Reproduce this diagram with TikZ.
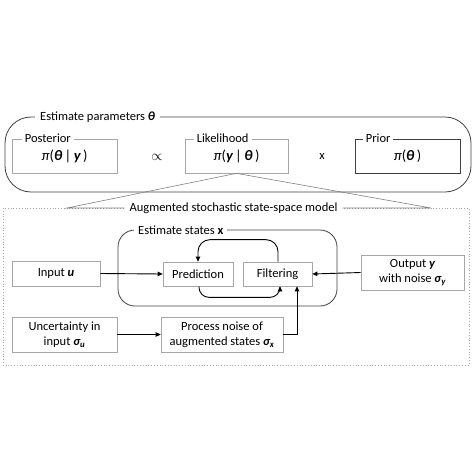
\documentclass[tikz,border=0pt]{standalone}
\usepackage{fontspec}
\setmainfont{Carlito}
\usetikzlibrary{arrows.meta}
\definecolor{boxgray}{HTML}{A6A6A6}
\definecolor{darkline}{HTML}{404040}
\definecolor{fangray}{HTML}{808080}
\newcommand{\bi}[1]{{\bfseries\itshape #1}}
\tikzset{
  every node/.style={font=\fontsize{12.5}{15}\selectfont, inner sep=0pt},
  box/.style={draw=boxgray, line width=0.7pt, fill=white, align=center},
  lab/.style={fill=white, inner sep=3pt, anchor=west},
  ttl/.style={fill=white, inner sep=5pt},
  arr/.style={draw=black, line width=0.9pt, -{Triangle[length=5pt,width=4.5pt]}},
  frame/.style={draw=darkline, line width=0.8pt},
  bigmath/.style={font=\fontsize{14.5}{17}\selectfont}
}
\begin{document}
\begin{tikzpicture}[x=1pt,y=-1pt]
\useasboundingbox (0,0) rectangle (474,474);
% outer parameter frame
\draw[frame, rounded corners=26pt] (5,117) rectangle (471,192);
\node[ttl, anchor=west] (partitle) at (35,117) {Estimate parameters \bi{θ}};
% three boxes
\node[box, minimum width=105pt, minimum height=34pt, bigmath] (post) at (64.5,156) {{\itshape π}(\bi{θ}\,|\,\bi{y}\,)};
\node[box, minimum width=103pt, minimum height=34pt, bigmath] (lik) at (236.5,156) {{\itshape π}(\bi{y}\,|\,\bi{θ}\,)};
\node[box, draw=darkline, minimum width=105pt, minimum height=34pt, bigmath] (prior) at (407.5,156) {{\itshape π}(\bi{θ}\,)};
\node[lab] (postlab) at ([xshift=10pt]post.north west) {Posterior};
\node[lab] (liklab) at ([xshift=9pt]lik.north west) {Likelihood};
\node[lab] (priorlab) at ([xshift=8pt]prior.north west) {Prior};
\node[bigmath] (prop) at (157,157) {$\propto$};
\node (times) at (322,157) {x};
% dotted model frame
\draw[boxgray, dotted, line width=0.8pt] (3,208) rectangle (469,365);
\coordinate (fl) at (67,208);
\coordinate (fr) at (431,208);
\node[ttl] (augtitle) at (233.5,208) {Augmented stochastic state-space model};
\draw[fangray, line width=0.6pt] (lik.south) -- (fl) -- (augtitle.west);
\draw[fangray, line width=0.6pt] (lik.south) -- (fr) -- (augtitle.east);
% states frame
\draw[frame, rounded corners=17pt] (118,230) rectangle (337,306);
\node[ttl, anchor=west, inner sep=4pt] (sttitle) at (134,230) {Estimate states {\bfseries x}};
% boxes
\node[box, minimum width=70pt, minimum height=24pt] (pred) at (198,274) {Prediction};
\node[box, minimum width=69pt, minimum height=24pt] (filt) at (277.5,274) {Filtering};
\node[box, minimum width=88pt, minimum height=25pt] (inp) at (56,273.5) {Input \bi{u}};
\node[box, minimum width=103pt, minimum height=35pt] (outp) at (412.5,272.5) {Output \bi{y}\\ with noise \bi{σ\textsubscript{y}}};
\node[box, minimum width=105pt, minimum height=35pt] (unc) at (64.5,334.5) {Uncertainty in\\ input \bi{σ\textsubscript{u}}};
\node[box, minimum width=122pt, minimum height=35pt] (proc) at (222,334.5) {Process noise of\\ augmented states \bi{σ\textsubscript{x}}};
% arrows
\draw[arr, rounded corners=12pt] ([xshift=0.5pt]filt.north) -- ++(0,-22) -| (pred.north);
\draw[arr, rounded corners=10pt] ([xshift=1pt]pred.south) -- ++(0,11) -| ([xshift=2.5pt]filt.south);
\draw[arr] (inp.east) -- (pred.west);
\draw[arr] (outp.west) -- (filt.east);
\draw[arr] (unc.east) -- (proc.west);
\draw[arr] (proc.east) -| ([xshift=19.5pt]filt.south);
\end{tikzpicture}
\end{document}
